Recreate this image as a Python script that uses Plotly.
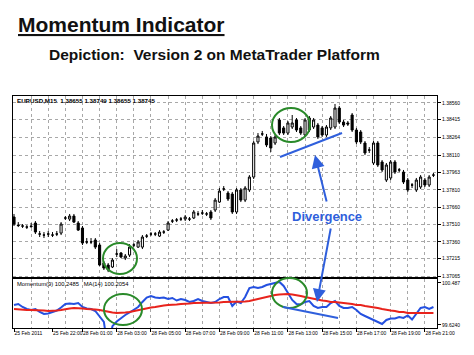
import plotly.graph_objects as go

W, H = 474, 355

def fx(x):
    return x / W

def fy(y):
    return 1 - y / H

# ---------------- data ----------------
bars = list(range(99))

open_ = [1.37575, 1.37505, 1.37497, 1.37488, 1.37497, 1.37523, 1.37428, 1.37419, 1.37428, 1.37419,
         1.37428, 1.37436, 1.37566, 1.37557, 1.37583, 1.37523, 1.37480, 1.37359, 1.37359, 1.37376,
         1.37333, 1.37177, 1.37160, 1.37143, 1.37255, 1.37264, 1.37220, 1.37246, 1.37333, 1.37315,
         1.37315, 1.37410, 1.37428, 1.37428, 1.37410, 1.37445, 1.37462, 1.37540, 1.37549, 1.37557,
         1.37557, 1.37557, 1.37566, 1.37601, 1.37609, 1.37601, 1.37618, 1.37635, 1.37704, 1.37817,
         1.37782, 1.37773, 1.37618, 1.37808, 1.37721, 1.37808, 1.37920, 1.38223, 1.38292, 1.38266,
         1.38257, 1.38214, 1.38413, 1.38344, 1.38300, 1.38352, 1.38413, 1.38344, 1.38283, 1.38326,
         1.38352, 1.38369, 1.38344, 1.38283, 1.38344, 1.38352, 1.38516, 1.38395, 1.38387, 1.38456,
         1.38326, 1.38309, 1.38214, 1.38153, 1.38041, 1.38214, 1.38050, 1.37894, 1.37912, 1.38050,
         1.37981, 1.37963, 1.37894, 1.37851, 1.37808, 1.37834, 1.37894, 1.37851, 1.37937]
high = [1.37601, 1.37531, 1.37514, 1.37505, 1.37523, 1.37540, 1.37454, 1.37445, 1.37454, 1.37445,
        1.37454, 1.37531, 1.37583, 1.37601, 1.37601, 1.37540, 1.37497, 1.37393, 1.37393, 1.37393,
        1.37350, 1.37194, 1.37177, 1.37220, 1.37298, 1.37272, 1.37255, 1.37341, 1.37350, 1.37376,
        1.37419, 1.37428, 1.37445, 1.37445, 1.37462, 1.37462, 1.37540, 1.37557, 1.37566, 1.37575,
        1.37592, 1.37575, 1.37635, 1.37626, 1.37635, 1.37618, 1.37635, 1.37739, 1.37825, 1.37842,
        1.37799, 1.37791, 1.37825, 1.37825, 1.37842, 1.37937, 1.38231, 1.38300, 1.38318, 1.38292,
        1.38274, 1.38283, 1.38430, 1.38361, 1.38404, 1.38456, 1.38430, 1.38361, 1.38430, 1.38447,
        1.38430, 1.38387, 1.38361, 1.38369, 1.38447, 1.38551, 1.38534, 1.38413, 1.38404, 1.38473,
        1.38344, 1.38326, 1.38231, 1.38179, 1.38231, 1.38231, 1.38067, 1.38041, 1.38067, 1.38067,
        1.37998, 1.37981, 1.37912, 1.37868, 1.37912, 1.37937, 1.37912, 1.37937, 1.37955]
low = [1.37497, 1.37488, 1.37480, 1.37471, 1.37480, 1.37428, 1.37402, 1.37393, 1.37402, 1.37402,
       1.37410, 1.37419, 1.37549, 1.37540, 1.37523, 1.37454, 1.37333, 1.37341, 1.37341, 1.37298,
       1.37151, 1.37117, 1.37099, 1.37134, 1.37229, 1.37220, 1.37203, 1.37229, 1.37315, 1.37307,
       1.37298, 1.37393, 1.37410, 1.37410, 1.37402, 1.37428, 1.37454, 1.37523, 1.37531, 1.37540,
       1.37540, 1.37540, 1.37557, 1.37583, 1.37592, 1.37583, 1.37549, 1.37618, 1.37696, 1.37799,
       1.37713, 1.37601, 1.37601, 1.37704, 1.37704, 1.37791, 1.37903, 1.38205, 1.38274, 1.38179,
       1.38136, 1.38197, 1.38283, 1.38283, 1.38283, 1.38335, 1.38309, 1.38283, 1.38266, 1.38309,
       1.38335, 1.38249, 1.38266, 1.38266, 1.38326, 1.38335, 1.38378, 1.38352, 1.38361, 1.38309,
       1.38205, 1.38205, 1.38110, 1.38128, 1.38024, 1.38007, 1.37963, 1.37877, 1.37894, 1.37946,
       1.37963, 1.37860, 1.37791, 1.37825, 1.37791, 1.37817, 1.37834, 1.37834, 1.37920]
close = [1.37514, 1.37501, 1.37497, 1.37488, 1.37493, 1.37445, 1.37428, 1.37419, 1.37428, 1.37419,
         1.37428, 1.37514, 1.37566, 1.37583, 1.37531, 1.37462, 1.37350, 1.37359, 1.37359, 1.37315,
         1.37160, 1.37134, 1.37117, 1.37203, 1.37255, 1.37229, 1.37238, 1.37315, 1.37333, 1.37359,
         1.37402, 1.37410, 1.37428, 1.37428, 1.37445, 1.37445, 1.37523, 1.37540, 1.37549, 1.37557,
         1.37575, 1.37557, 1.37618, 1.37601, 1.37609, 1.37601, 1.37566, 1.37721, 1.37799, 1.37817,
         1.37730, 1.37618, 1.37808, 1.37721, 1.37825, 1.37920, 1.38214, 1.38274, 1.38292, 1.38197,
         1.38171, 1.38266, 1.38300, 1.38300, 1.38387, 1.38387, 1.38326, 1.38300, 1.38413, 1.38430,
         1.38413, 1.38266, 1.38283, 1.38352, 1.38430, 1.38516, 1.38395, 1.38369, 1.38378, 1.38326,
         1.38223, 1.38223, 1.38128, 1.38153, 1.38214, 1.38024, 1.37981, 1.38024, 1.38050, 1.37963,
         1.37981, 1.37877, 1.37808, 1.37851, 1.37894, 1.37920, 1.37851, 1.37920, 1.37937]

momentum = [100.035, 100.055, 99.994, 99.953, 99.932, 99.953, 99.891, 99.850, 99.860, 99.891,
            99.922, 99.984, 100.055, 100.066, 100.055, 100.076, 99.994, 99.963, 99.953, 99.912,
            99.809, 99.686, 99.100, 99.600, 99.696, 99.768, 99.829, 99.881, 99.932, 99.994,
            100.097, 100.189, 100.220, 100.189, 100.179, 100.189, 100.158, 100.179, 100.127, 100.158,
            100.138, 100.097, 100.117, 100.158, 100.117, 100.097, 100.076, 100.097, 100.158, 100.199,
            100.199, 100.014, 100.107, 100.076, 100.199, 100.384, 100.405, 100.384, 100.405, 100.446,
            100.466, 100.487, 100.508, 100.425, 100.281, 100.138, 100.055, 100.045, 100.097, 100.117,
            100.014, 99.973, 99.994, 99.994, 100.076, 100.117, 100.014, 99.973, 99.973, 99.994,
            99.932, 99.850, 99.809, 99.768, 99.727, 99.686, 99.644, 99.727, 99.757, 99.757,
            99.788, 99.768, 99.819, 99.737, 99.850, 99.973, 99.994, 99.953, 99.994]

ma14 = [99.953, 99.942, 99.932, 99.932, 99.932, 99.932, 99.932, 99.922, 99.912, 99.912,
        99.922, 99.932, 99.953, 99.963, 99.973, 99.973, 99.963, 99.953, 99.953, 99.942,
        99.932, 99.912, 99.891, 99.881, 99.870, 99.870, 99.881, 99.891, 99.912, 99.932,
        99.953, 99.963, 99.984, 99.994, 100.014, 100.025, 100.035, 100.035, 100.045, 100.055,
        100.055, 100.066, 100.076, 100.076, 100.076, 100.076, 100.076, 100.086, 100.086, 100.097,
        100.097, 100.097, 100.097, 100.097, 100.107, 100.117, 100.138, 100.158, 100.189, 100.210,
        100.220, 100.240, 100.251, 100.261, 100.261, 100.251, 100.240, 100.220, 100.199, 100.179,
        100.158, 100.138, 100.127, 100.117, 100.097, 100.097, 100.086, 100.076, 100.076, 100.055,
        100.035, 100.035, 100.014, 100.004, 99.994, 99.973, 99.953, 99.932, 99.922, 99.912,
        99.891, 99.891, 99.870, 99.870, 99.870, 99.870, 99.870, 99.870, 99.870]

price_ticks = [1.37065, 1.37215, 1.37360, 1.37510, 1.37660, 1.37810, 1.37963, 1.38110, 1.38264, 1.38415, 1.38560]
price_labels = ["1.37065", "1.37215", "1.37360", "1.37510", "1.37660", "1.37810", "1.37963", "1.38110", "1.38264", "1.38415", "1.38560"]
mom_ticks = [100.487, 99.624]
mom_labels = ["100.487", "99.6240"]
date_pos = [0, 9, 16, 24, 32, 40, 48, 56, 64, 72, 80, 88, 96]
date_labels = ["25 Feb 2011", "25 Feb 22:00", "28 Feb 01:00", "28 Feb 03:00", "28 Feb 05:00", "28 Feb 07:00",
               "28 Feb 09:00", "28 Feb 11:00", "28 Feb 13:00", "28 Feb 15:00", "28 Feb 17:00", "28 Feb 19:00",
               "28 Feb 21:00"]
grid_pos = list(range(4, 99, 4))

# ---------------- figure ----------------
FONT = "Liberation Sans, Arial, sans-serif"
BLUE = "#2f5fdc"
GREEN = "#2a8a2a"

fig = go.Figure()
fig.add_trace(go.Candlestick(
    x=bars, open=open_, high=high, low=low, close=close,
    increasing=dict(line=dict(color="black", width=1), fillcolor="white"),
    decreasing=dict(line=dict(color="black", width=1), fillcolor="black"),
    whiskerwidth=0, hoverinfo="skip", showlegend=False, xaxis="x", yaxis="y"))
# MA on the label axis (x3), momentum on the grid axis (x2) - both share range and y2
fig.add_trace(go.Scatter(x=bars, y=ma14, mode="lines", line=dict(color="#e8231c", width=2),
                         hoverinfo="skip", showlegend=False, xaxis="x3", yaxis="y2"))
fig.add_trace(go.Scatter(x=bars, y=momentum, mode="lines", line=dict(color="#2450e0", width=2),
                         hoverinfo="skip", showlegend=False, xaxis="x2", yaxis="y2"))

xr = [-0.234, 98.83]
xdom = [fx(13), fx(437)]
grid = dict(showgrid=True, gridcolor="#a8a8a8", griddash="dot", gridwidth=1)
tickfont = dict(family=FONT, size=5, color="black")

fig.update_layout(
    width=W, height=H, margin=dict(l=0, r=0, t=0, b=0, autoexpand=False),
    paper_bgcolor="white", plot_bgcolor="white", showlegend=False,
    xaxis=dict(domain=xdom, range=xr, anchor="y", tickmode="array", tickvals=grid_pos,
               showticklabels=False, ticks="", zeroline=False, rangeslider=dict(visible=False),
               automargin=False,
               showline=True, linecolor="black", linewidth=1, mirror=True, **grid),
    yaxis=dict(domain=[fy(278), fy(96)], range=[1.37048, 1.38620], anchor="x", side="right",
               tickmode="array", tickvals=price_ticks, ticktext=price_labels, ticks="outside",
               ticklen=3, tickcolor="black", tickfont=tickfont, zeroline=False, automargin=False,
               showline=True, linecolor="black", linewidth=1, mirror=True, **grid),
    xaxis2=dict(domain=xdom, range=xr, anchor="y2", tickmode="array", tickvals=grid_pos,
                showticklabels=False, ticks="", zeroline=False, automargin=False,
                showline=True, linecolor="black", linewidth=1, mirror=True, **grid),
    xaxis3=dict(domain=xdom, range=xr, anchor="y2", overlaying="x2", side="bottom",
                tickmode="array", tickvals=date_pos, ticktext=date_labels, tickangle=0,
                ticklabelposition="outside right", ticks="outside", ticklen=3, tickcolor="black",
                tickfont=tickfont, showgrid=False, zeroline=False, showline=False, automargin=False),
    yaxis2=dict(domain=[fy(328), fy(279)], range=[99.562, 100.569], anchor="x2", side="right",
                tickmode="array", tickvals=mom_ticks, ticktext=mom_labels, ticks="outside",
                ticklen=3, tickcolor="black", tickfont=tickfont, showgrid=False, zeroline=False,
                automargin=False,
                showline=True, linecolor="black", linewidth=1, mirror=True),
)

shapes = []
# separator between main chart and indicator
shapes.append(dict(type="line", xref="paper", yref="paper", x0=fx(13), x1=fx(437), y0=fy(278), y1=fy(278),
                   line=dict(color="black", width=2)))
# green ellipses
for (x0, y0, x1, y1) in [(103, 243, 137, 274), (272, 108, 310, 142), (104, 294, 142, 325), (272, 278, 307, 308)]:
    shapes.append(dict(type="circle", xref="paper", yref="paper", x0=fx(x0), x1=fx(x1), y0=fy(y1), y1=fy(y0),
                       line=dict(color=GREEN, width=2)))
# blue divergence lines
shapes.append(dict(type="line", xref="paper", yref="paper", x0=fx(280), y0=fy(157), x1=fx(342), y1=fy(133),
                   line=dict(color=BLUE, width=2)))
shapes.append(dict(type="line", xref="paper", yref="paper", x0=fx(283), y0=fy(307), x1=fx(338), y1=fy(318),
                   line=dict(color=BLUE, width=2)))
fig.update_layout(shapes=shapes)

ann = []
ann.append(dict(text="<b><u>Momentum Indicator</u></b>", x=fx(16), y=fy(24), xref="paper", yref="paper",
                xanchor="left", yanchor="middle", showarrow=False,
                font=dict(family=FONT, size=21, color="#111111")))
ann.append(dict(text="<b>Depiction:\u00a0 Version 2 on MetaTrader Platform</b>", x=fx(47), y=fy(54),
                xref="paper", yref="paper", xanchor="left", yanchor="middle", showarrow=False,
                font=dict(family=FONT, size=15.5, color="#111111")))
ann.append(dict(text="<b>EURUSD,M15  1.38655 1.38749 1.38655 1.38745</b>", x=fx(15), y=fy(100),
                xref="paper", yref="paper", xanchor="left", yanchor="middle", showarrow=False,
                font=dict(family=FONT, size=6.2, color="black")))
ann.append(dict(text="Momentum(9) 100.2485   MA(14) 100.2054", x=fx(15), y=fy(284),
                xref="paper", yref="paper", xanchor="left", yanchor="middle", showarrow=False,
                font=dict(family=FONT, size=5.8, color="black")))
ann.append(dict(text="<b>Divergence</b>", x=fx(327), y=fy(216), xref="paper", yref="paper",
                xanchor="center", yanchor="middle", showarrow=False,
                font=dict(family=FONT, size=13, color=BLUE)))
# arrows
ann.append(dict(text="", x=fx(315), y=fy(155), xref="paper", yref="paper", showarrow=True,
                ax=12, ay=48, arrowhead=2, arrowsize=1.3, arrowwidth=2, arrowcolor=BLUE))
ann.append(dict(text="", x=fx(317), y=fy(302), xref="paper", yref="paper", showarrow=True,
                ax=14, ay=-75, arrowhead=2, arrowsize=1.3, arrowwidth=2, arrowcolor=BLUE))
fig.update_layout(annotations=ann)

fig.write_html("out.html")
